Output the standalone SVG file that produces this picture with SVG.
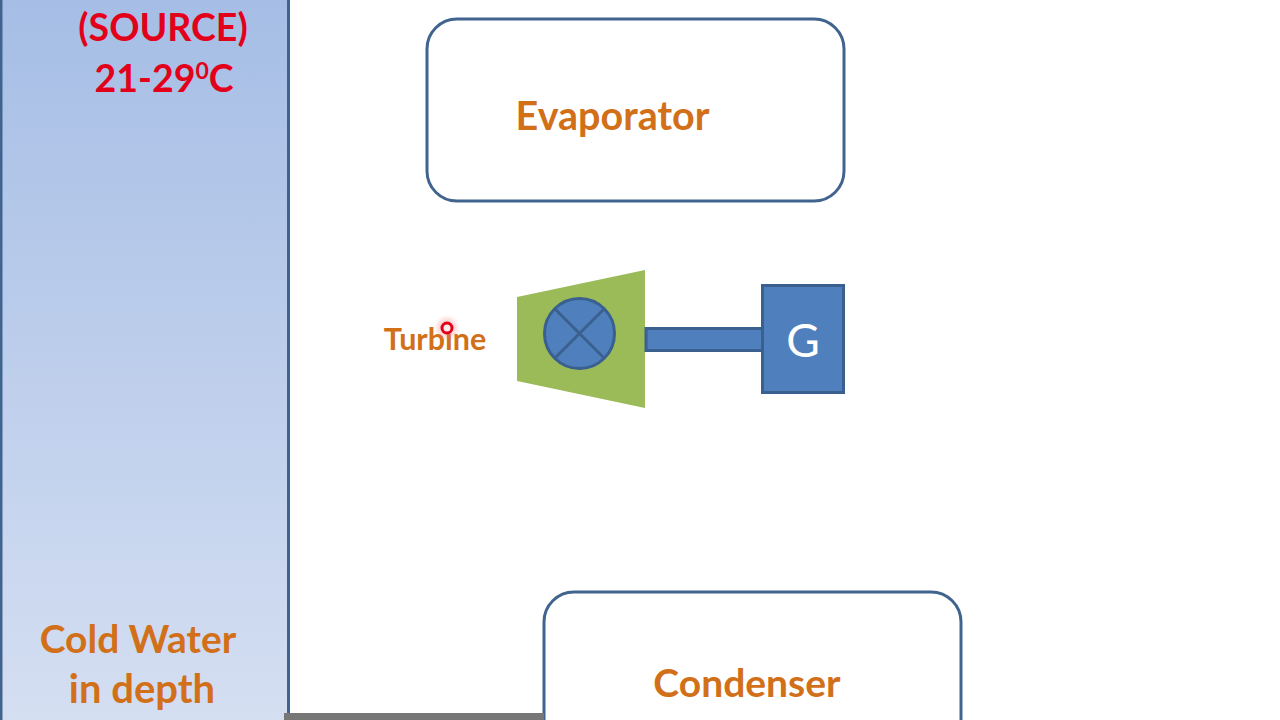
<svg xmlns="http://www.w3.org/2000/svg" width="1280" height="720" viewBox="0 0 1280 720">
<style>
.box{fill:#fff;stroke:#41648f;stroke-width:3}
.o{font-family:Lato,"Liberation Sans",sans-serif;font-weight:700;fill:#d2701a;text-anchor:middle}
.r{font-family:Lato,"Liberation Sans",sans-serif;font-weight:700;fill:#e3001b;text-anchor:middle;font-size:37.500px}
.blue{fill:#4f7fbc;stroke:#3a6090;stroke-width:3}
</style>
<defs>
<linearGradient id="water" x1="0" y1="0" x2="0" y2="1"><stop offset="0" stop-color="#a5bde5"/><stop offset="1" stop-color="#d5dff2"/></linearGradient>
<radialGradient id="glow"><stop offset="0" stop-color="#f08080" stop-opacity=".7"/><stop offset="1" stop-color="#f08080" stop-opacity="0"/></radialGradient>
</defs>
<rect width="1280" height="720" fill="#fff"/>
<g id="water-column">
<rect x="1" y="-10" width="287.500" height="740" fill="url(#water)" stroke="#41648f" stroke-width="3"/>
<text class="r" x="163" y="41">(SOURCE)</text>
<text class="r" x="164" y="92" font-size="37">21-29<tspan font-size="23" dy="-13">0</tspan><tspan dy="13">C</tspan></text>
<text class="o" x="138" y="653" font-size="39">Cold Water</text>
<text class="o" x="142" y="703" font-size="40">in depth</text>
</g>
<g id="evaporator">
<rect class="box" x="427" y="19" width="417" height="182" rx="30"/>
<text class="o" x="612.500" y="130" font-size="39.500">Evaporator</text>
</g>
<g id="condenser">
<rect class="box" x="544" y="592" width="417" height="182" rx="30"/>
<text class="o" x="747" y="697" font-size="39">Condenser</text>
</g>
<g id="turbine-label">
<text class="o" x="435" y="350" font-size="30.500">Turbine</text>
<circle cx="447" cy="328" r="13" fill="url(#glow)"/>
<circle cx="447" cy="328" r="5" fill="#fbeaea" stroke="#e3001b" stroke-width="3"/>
</g>
<g id="turbine">
<polygon points="517,297 645,270 645,408 517,381" fill="#9bbb59"/>
<circle class="blue" cx="579.500" cy="333.500" r="35"/>
<path d="M554.500,308.500 L604.500,358.500 M604.500,308.500 L554.500,358.500" fill="none" stroke="#3a6090" stroke-width="3"/>
</g>
<g id="connectors">
<rect class="blue" x="646" y="328.500" width="117" height="22"/>
<line x1="284" y1="716.500" x2="544" y2="716.500" stroke="#777" stroke-width="7"/>
</g>
<g id="generator">
<rect class="blue" x="762.500" y="285.500" width="81" height="107"/>
<text x="803" y="357" font-family="Lato,'Liberation Sans',sans-serif" font-size="46" fill="#fff" text-anchor="middle">G</text>
</g>
</svg>
